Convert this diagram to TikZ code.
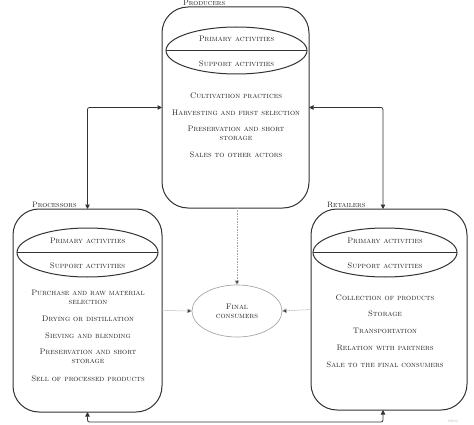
\documentclass[tikz,border=0pt]{standalone}
\usetikzlibrary{arrows.meta,shapes.geometric}
\definecolor{ink}{HTML}{333333}
\definecolor{tx}{HTML}{222222}
\definecolor{faint}{HTML}{A8A8A8}
\begin{document}
\begin{tikzpicture}[x=1pt,y=-1pt,
  every node/.style={inner sep=0pt,outer sep=0pt},
  actor/.style={draw=ink,line width=1pt,rounded corners=26pt,rectangle},
  act/.style={draw=ink,line width=1pt,ellipse},
  txt/.style={text=tx,font=\fontsize{8}{8.8}\selectfont\scshape,align=center},
  lbl/.style={text=tx,font=\fontsize{7.8}{8.4}\selectfont\scshape,anchor=base west},
  link/.style={draw=ink,line width=0.8pt,{Triangle[length=4.5pt,width=4.5pt]}-{Triangle[length=4.5pt,width=4.5pt]},rounded corners=2pt},
  flow/.style={draw=faint,line width=0.5pt,dash pattern=on 1pt off 0.6pt,-{Triangle[length=4.5pt,width=4.5pt,fill=ink]}}]
\useasboundingbox (0,0) rectangle (474,425);
\fill[white] (0,0) rectangle (474,425);

% actor boxes
\node[actor,minimum width=147pt,minimum height=201pt] (prod) at (235.5,107.5) {};
\node[actor,minimum width=149pt,minimum height=203pt] (proc) at (87.5,310.5) {};
\node[actor,minimum width=156pt,minimum height=201pt] (ret) at (389,309.5) {};

% labels
\node[lbl] (lprod) at (183,5.5) {Producers};
\node[lbl] (lproc) at (32,207.5) {Processors};
\node[lbl] (lret) at (327,207.5) {Retailers};

% activity ellipses
\node[act,minimum width=141pt,minimum height=47pt] (eprod) at (236.5,50.5) {};
\draw[ink,line width=1pt] (eprod.west) -- (eprod.east);
\node[txt] (pa1) at (236.5,39) {Primary activities};
\node[txt] (sa1) at (236.5,63.5) {Support activities};

\node[act,minimum width=141pt,minimum height=49pt] (eproc) at (87.5,252.5) {};
\draw[ink,line width=1pt] (eproc.west) -- (eproc.east);
\node[txt] (pa2) at (87.5,240.5) {Primary activities};
\node[txt] (sa2) at (87.5,265.5) {Support activities};

\node[act,minimum width=144pt,minimum height=49pt] (eret) at (385,252.5) {};
\draw[ink,line width=1pt] (eret.west) -- (eret.east);
\node[txt] (pa3) at (385,240.5) {Primary activities};
\node[txt] (sa3) at (385,265.5) {Support activities};

% producers items
\node[txt] (p1) at (236,95.5) {Cultivatiion practices};
\node[txt] (p2) at (236,112.5) {Harvesting and first selection};
\node[txt] (p3) at (236,133) {Preservation and short\\storage};
\node[txt] (p4) at (236,155) {Sales to other actors};

% processors items
\node[txt] (q1) at (88,297.5) {Purchase and raw material\\selection};
\node[txt] (q2) at (88,318.5) {Drying or distillation};
\node[txt] (q3) at (88,335.5) {Sieving and blending};
\node[txt] (q4) at (88,356.5) {Preservation and short\\storage};
\node[txt] (q5) at (88,378.5) {Sell of processed products};

% retailers items
\node[txt] (r1) at (385,297.5) {Collection of products};
\node[txt] (r2) at (385,313.5) {Storage};
\node[txt] (r3) at (385,330.5) {Transportation};
\node[txt] (r4) at (385,347.5) {Relation with partners};
\node[txt] (r5) at (385,364.5) {Sale to the final consumers};

% final consumers
\node[draw=faint,line width=0.7pt,ellipse,minimum width=90pt,minimum height=52pt,txt] (fc) at (237,311) {Final\\consumers};

% links between actors
\coordinate (retN) at (383,209);
\coordinate (retS) at (383,410);
\coordinate (bot) at (0,422);
\draw[link] (proc.north) |- (prod.west);
\draw[link] (retN) |- (prod.east);
\draw[link] (proc.south) -- (proc.south |- bot) -- (retS |- bot) -- (retS);

% flows to final consumers
\coordinate (prodS) at (237,208);
\draw[flow] (prodS) -- (fc.north);
\draw[flow] (proc.east) -- (fc.west);
\draw[flow] (ret.west) -- (fc.east);

\node[text=faint!70,font=\fontsize{5}{6}\sffamily,anchor=base] (miro) at (453,422) {miro};
\end{tikzpicture}
\end{document}
